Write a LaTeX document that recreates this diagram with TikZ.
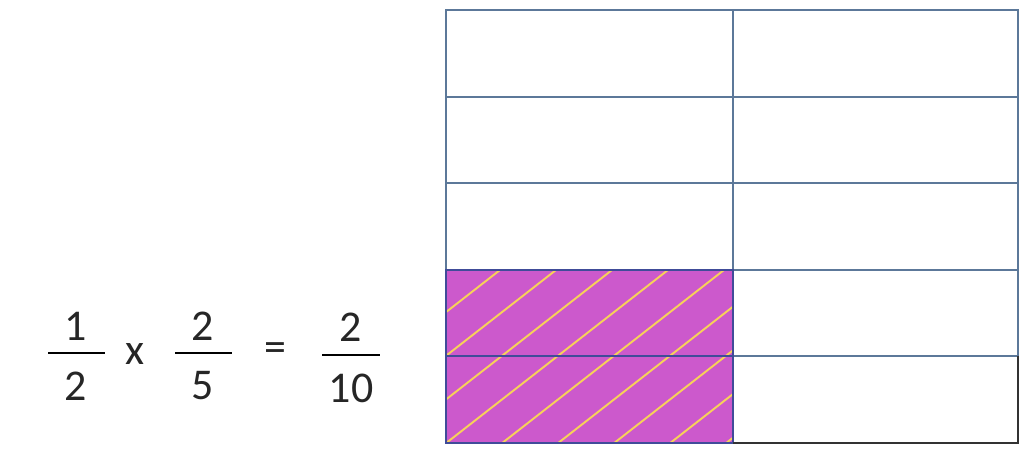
\documentclass[tikz,border=0pt]{standalone}
\usepackage{fontspec}
\setmainfont{Carlito}
\usepackage{tikz}
\usetikzlibrary{positioning,calc}

\definecolor{gridblue}{rgb}{0.36,0.47,0.60}
\definecolor{shademag}{rgb}{0.80,0.35,0.80}
\definecolor{hatchyel}{rgb}{0.97,0.82,0.35}
\definecolor{edgeblue}{rgb}{0.25,0.30,0.60}

\tikzset{
  fracnum/.style={inner sep=0pt,text=black!85,font=\fontsize{25}{30}\selectfont},
  gridline/.style={draw=gridblue,line width=0.7pt},
  hatchline/.style={draw=hatchyel,line width=1.1pt}
}

\begin{document}
\begin{tikzpicture}[x=0.02cm,y=-0.02cm]
    \useasboundingbox (0,0) rectangle (1024,453);

    % Fractions
    \node[fracnum] (n1) at (76,326) {1};
    \node[fracnum] (d1) at (76,386) {2};
    \draw[line width=0.7pt] (48,353) -- (105,353);
    \node[fracnum] (times) at (135,354) {x};

    \node[fracnum] (n2) at (203,326) {2};
    \node[fracnum] (d2) at (203,386) {5};
    \draw[line width=0.7pt] (175,353) -- (232,353);
    \node[fracnum] (equal) at (275,352) {=};

    \node[fracnum] (n3) at (351,327) {2};
    \node[fracnum] (d3) at (351,388) {10};
    \draw[line width=0.7pt] (322,355) -- (380,355);

    % Partie coloriee
    \fill[shademag] (446,270) rectangle (733,443);
    \begin{scope}
      \clip (446,270) rectangle (733,443);
      \foreach \t in {276,332,...,948}
        \draw[hatchline] (\t,270) -- ++(-300,234);
    \end{scope}

    % Grille 2 x 5
    \foreach \y in {97,183,270}
      \draw[gridline] (446,\y) -- (1018,\y);
    \draw[gridline] (733,10) -- (733,270);
    \draw[gridline] (446,10) rectangle (1018,443);
    \draw[gridline] (733,356) -- (1018,356);
    \draw[edgeblue,line width=0.7pt] (446,356) -- (733,356);
    \draw[edgeblue,line width=0.7pt] (446,270) rectangle (733,443);
    \draw[edgeblue,line width=1.4pt] (733,270) -- (733,443);
    \draw[black!80,line width=0.8pt] (733,443) -- (1018,443) -- (1018,356);
\end{tikzpicture}
\end{document}
